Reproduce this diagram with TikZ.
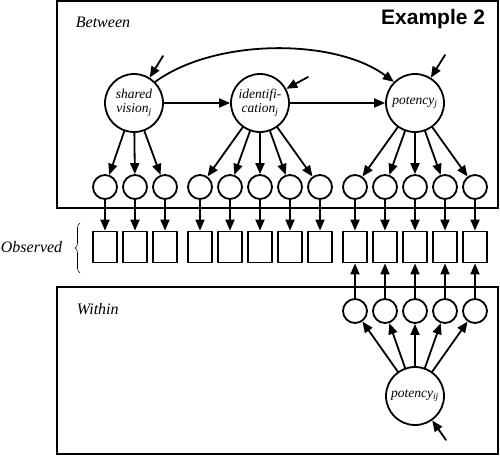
\documentclass[tikz,border=0pt]{standalone}
\usepackage{fontspec}
\setmainfont{Liberation Serif}
\newfontfamily\headfont{Liberation Sans}
\usetikzlibrary{arrows.meta}
\usetikzlibrary{positioning}
\usetikzlibrary{decorations.pathreplacing}

\begin{document}
\begin{tikzpicture}[line cap=round,line join=round,>={Triangle[length=11pt,width=9pt]},x=1pt,y=-1pt,line width=1.8pt,
  latent/.style={circle,draw,minimum size=58pt,inner sep=0pt,align=center,font=\fontsize{13.5}{14}\selectfont\itshape},
  ind/.style={circle,draw,minimum size=24pt,inner sep=0pt},
  obs/.style={rectangle,draw,minimum width=24pt,minimum height=31pt,inner sep=0pt},
  lvl/.style={font=\fontsize{16}{19}\selectfont\itshape,inner sep=0pt}]
\useasboundingbox (0,0) rectangle (500,456);
% levels
\draw [line join=miter] (57,1) rectangle (498,208);
\draw [line join=miter] (57,287) rectangle (498,454);
\node[lvl,anchor=base west] (between) at (75,27) {Between};
\node[lvl,anchor=base west] (within) at (76,314) {Within};
\node[anchor=base east,inner sep=0pt,font=\headfont\bfseries\fontsize{21}{24}\selectfont] (title) at (486,24) {Example 2};
\node[lvl,anchor=base west] (observed) at (0,252) {Observed};
\draw [line width=0.6pt,decorate,decoration={brace,amplitude=5pt}] (80,273) -- (80,223);
% latent factors
\node[latent] (vis) at (134,103) {shared\\vision\textsubscript{j}};
\node[latent] (ide) at (260,103) {identifi-\\cation\textsubscript{j}};
\node[latent] (potb) at (415,103) {potency\textsubscript{j}};
\node[latent] (potw) at (415,396) {potency\textsubscript{ij}};
% between indicators
\node[ind] (b1) at (105,187) {};
\node[ind] (b2) at (135,187) {};
\node[ind] (b3) at (165,187) {};
\node[ind] (b4) at (200,187) {};
\node[ind] (b5) at (230,187) {};
\node[ind] (b6) at (260,187) {};
\node[ind] (b7) at (290,187) {};
\node[ind] (b8) at (320,187) {};
\node[ind] (b9) at (355,187) {};
\node[ind] (b10) at (385,187) {};
\node[ind] (b11) at (415,187) {};
\node[ind] (b12) at (445,187) {};
\node[ind] (b13) at (475,187) {};
% observed items
\node[obs] (y1) at (105,247) {};
\node[obs] (y2) at (135,247) {};
\node[obs] (y3) at (165,247) {};
\node[obs] (y4) at (200,247) {};
\node[obs] (y5) at (230,247) {};
\node[obs] (y6) at (260,247) {};
\node[obs] (y7) at (290,247) {};
\node[obs] (y8) at (320,247) {};
\node[obs] (y9) at (355,247) {};
\node[obs] (y10) at (385,247) {};
\node[obs] (y11) at (415,247) {};
\node[obs] (y12) at (445,247) {};
\node[obs] (y13) at (475,247) {};
% within indicators
\node[ind] (w9) at (355,311) {};
\node[ind] (w10) at (385,311) {};
\node[ind] (w11) at (415,311) {};
\node[ind] (w12) at (445,311) {};
\node[ind] (w13) at (475,311) {};
% structural paths
\draw [->] (vis) -- (ide);
\draw [->] (ide) -- (potb);
\draw [->] (vis.45) .. controls (215,38) and (335,38) .. (potb.135);
% residuals
\coordinate (evis) at (163,56);
\coordinate (eide) at (308,77);
\coordinate (epotb) at (445,55);
\coordinate (epotw) at (446,440);
\draw [->] (evis) -- (vis);
\draw [->] (eide) -- (ide);
\draw [->] (epotb) -- (potb);
\draw [->] (epotw) -- (potw);
% loadings
\draw [->] (vis) -- (b1);
\draw [->] (vis) -- (b2);
\draw [->] (vis) -- (b3);
\draw [->] (ide) -- (b4);
\draw [->] (ide) -- (b5);
\draw [->] (ide) -- (b6);
\draw [->] (ide) -- (b7);
\draw [->] (ide) -- (b8);
\draw [->] (potb) -- (b9);
\draw [->] (potb) -- (b10);
\draw [->] (potb) -- (b11);
\draw [->] (potb) -- (b12);
\draw [->] (potb) -- (b13);
\draw [->] (potw) -- (w9);
\draw [->] (potw) -- (w10);
\draw [->] (potw) -- (w11);
\draw [->] (potw) -- (w12);
\draw [->] (potw) -- (w13);
% indicators to items
\draw [->] (b1) -- (y1);
\draw [->] (b2) -- (y2);
\draw [->] (b3) -- (y3);
\draw [->] (b4) -- (y4);
\draw [->] (b5) -- (y5);
\draw [->] (b6) -- (y6);
\draw [->] (b7) -- (y7);
\draw [->] (b8) -- (y8);
\draw [->] (b9) -- (y9);
\draw [->] (b10) -- (y10);
\draw [->] (b11) -- (y11);
\draw [->] (b12) -- (y12);
\draw [->] (b13) -- (y13);
\draw [->] (w9) -- (y9);
\draw [->] (w10) -- (y10);
\draw [->] (w11) -- (y11);
\draw [->] (w12) -- (y12);
\draw [->] (w13) -- (y13);
\end{tikzpicture}
\end{document}
